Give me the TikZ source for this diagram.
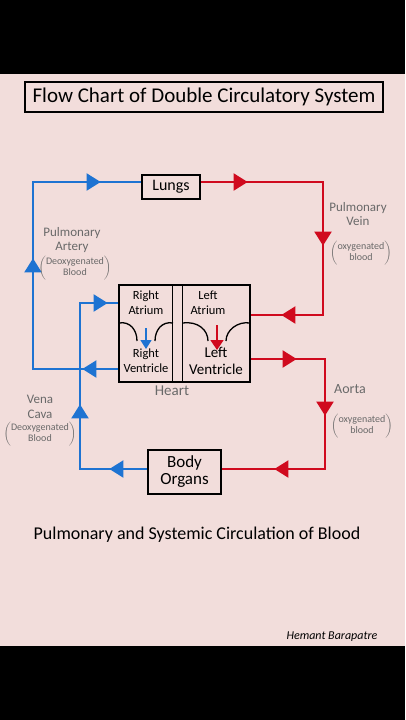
\documentclass[tikz,border=0pt]{standalone}
\usepackage{fontspec}
\setmainfont{Carlito}
\usetikzlibrary{arrows.meta,decorations.markings}
\definecolor{bgpink}{RGB}{242,221,219}
\definecolor{fblue}{RGB}{30,115,210}
\definecolor{fred}{RGB}{208,10,30}
\definecolor{lgray}{RGB}{105,105,105}
\newcommand\flowtip{\arrow{Triangle[length=14pt,width=17pt]}}
\begin{document}
\begin{tikzpicture}[x=1pt,y=-1pt,
  boxn/.style={draw=black,line width=1.3pt,inner sep=0pt,align=center},
  blueflow/.style={draw=fblue,line width=2pt},
  redflow/.style={draw=fred,line width=2pt},
  lab/.style={text=lgray,align=center,inner sep=0pt,font=\fontsize{13}{14.5}\selectfont},
  sublab/.style={text=lgray,align=center,inner sep=0pt,font=\fontsize{10}{11}\selectfont},
  chamber/.style={align=center,inner sep=0pt,font=\fontsize{12.5}{15}\selectfont},
  valve/.style={draw=black,line width=1.3pt},
]
\useasboundingbox (0,0) rectangle (405,720);
\fill[black] (0,0) rectangle (405,720);
\fill[bgpink] (0,74) rectangle (405,646);

% title
\node[boxn,minimum width=358pt,minimum height=30pt,font=\fontsize{21}{24}\selectfont] (title) at (204,97) {Flow Chart of Double Circulatory System};

% boxes
\node[boxn,minimum width=58pt,minimum height=24pt,font=\fontsize{16}{18}\selectfont] (lungs) at (171,187) {Lungs};
\node[boxn,minimum width=73pt,minimum height=44pt,font=\fontsize{17}{17}\selectfont] (body) at (184.5,472) {Body\\Organs};
\node[boxn,minimum width=131pt,minimum height=97pt] (heart) at (184.5,333.5) {};
\draw[valve] ([xshift=54pt]heart.north west) -- ([xshift=54pt]heart.south west);
\draw[valve] ([xshift=64pt]heart.north west) -- ([xshift=64pt]heart.south west);

% valves
\draw[valve] (119,323) .. controls (130,321) and (137,330) .. (137,341);
\draw[valve] (155,341) .. controls (155,330) and (162,321) .. (173,323);
\draw[valve] (183,323) .. controls (198,321) and (208,330) .. (208,341);
\draw[valve] (226,341) .. controls (226,330) and (238,321) .. (250,323);

% chamber texts
\node[chamber] (ra) at (146,303) {Right\\Atrium};
\node[chamber] (rv) at (146,361) {Right\\Ventricle};
\node[chamber] (la) at (208,303) {Left\\Atrium};
\node[chamber,font=\fontsize{15}{17}\selectfont] (lv) at (216,361) {Left\\Ventricle};
\coordinate (rvalve) at (146,328);
\coordinate (lvalve) at (217,325);
\draw[fblue,line width=1.5pt,-{Triangle[length=9pt,width=11pt]}] (rvalve) -- ++(0,21);
\draw[fred,line width=1.5pt,-{Triangle[length=10pt,width=13pt]}] (lvalve) -- ++(0,25);

\node[text=lgray,font=\fontsize{15}{17}\selectfont] (heartlab) at (172,391) {Heart};

% connector corners
\coordinate (c1) at (33,369);
\coordinate (c2) at (33,182);
\coordinate (c3) at (80,469);
\coordinate (c4) at (80,303);
\coordinate (c5) at (323,182);
\coordinate (c6) at (323,315);
\coordinate (c7) at (325,359);
\coordinate (c8) at (325,469);

% blue connectors
\draw[blueflow,postaction={decorate,decoration={markings,
   mark=at position 36pt with {\flowtip},
   mark=at position 196pt with {\flowtip},
   mark=at position 340pt with {\flowtip}}}]
  ([yshift=-35.5pt]heart.west) -- (c1) -- (c2) -- ([yshift=5pt]lungs.west);
\draw[blueflow,postaction={decorate,decoration={markings,
   mark=at position 38pt with {\flowtip},
   mark=at position 132pt with {\flowtip},
   mark=at position 261pt with {\flowtip}}}]
  ([yshift=3pt]body.west) -- (c3) -- (c4) -- ([yshift=30.5pt]heart.west);

% red connectors
\draw[redflow,postaction={decorate,decoration={markings,
   mark=at position 47pt with {\flowtip},
   mark=at position 186pt with {\flowtip},
   mark=at position 297pt with {\flowtip}}}]
  ([yshift=5pt]lungs.east) -- (c5) -- (c6) -- ([yshift=18.5pt]heart.east);
\draw[redflow,postaction={decorate,decoration={markings,
   mark=at position 46pt with {\flowtip},
   mark=at position 131pt with {\flowtip},
   mark=at position 235pt with {\flowtip}}}]
  ([yshift=-25.5pt]heart.east) -- (c7) -- (c8) -- ([yshift=3pt]body.east);

% labels
\node[lab] (pa) at (72,240) {Pulmonary\\Artery};
\node[sublab] (pab) at (75,268) {$\left(\begin{tabular}{@{}c@{}}Deoxygenated\\Blood\end{tabular}\right)$};
\node[lab] (pv) at (358,214) {Pulmonary\\Vein};
\node[sublab] (pvb) at (361,253) {$\left(\begin{tabular}{@{}c@{}}oxygenated\\blood\end{tabular}\right)$};
\node[lab,font=\fontsize{14}{16}\selectfont] (ao) at (350,389) {Aorta};
\node[sublab] (aob) at (362,426) {$\left(\begin{tabular}{@{}c@{}}oxygenated\\blood\end{tabular}\right)$};
\node[lab] (vc) at (40,407) {Vena\\Cava};
\node[sublab] (vcb) at (40,434) {$\left(\begin{tabular}{@{}c@{}}Deoxygenated\\Blood\end{tabular}\right)$};

% caption and signature
\node[font=\fontsize{18}{20}\selectfont] (caption) at (197,535) {Pulmonary and Systemic Circulation of Blood};
\node[font=\itshape\fontsize{12}{14}\selectfont] (sign) at (332,637) {Hemant Barapatre};
\end{tikzpicture}
\end{document}
